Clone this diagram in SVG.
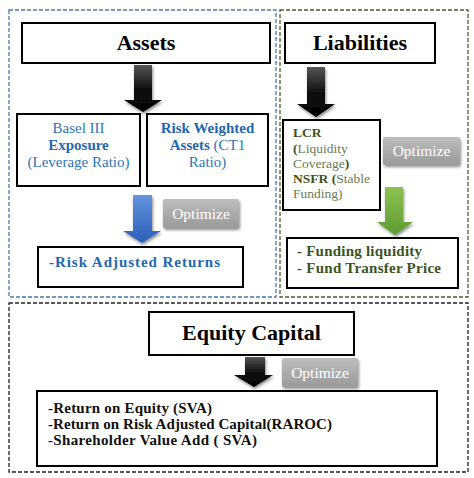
<svg xmlns="http://www.w3.org/2000/svg" width="474" height="478" viewBox="0 0 474 478">
<defs>
<linearGradient id="gBlack" x1="0" y1="0" x2="0" y2="1"><stop offset="0" stop-color="#555"/><stop offset="0.5" stop-color="#111"/><stop offset="1" stop-color="#000"/></linearGradient>
<linearGradient id="gBlue" x1="0" y1="0" x2="0" y2="1"><stop offset="0" stop-color="#6494dc"/><stop offset="1" stop-color="#2a5fba"/></linearGradient>
<linearGradient id="gGreen" x1="0" y1="0" x2="0" y2="1"><stop offset="0" stop-color="#8cc352"/><stop offset="1" stop-color="#5e9a32"/></linearGradient>
<linearGradient id="gGray" x1="0" y1="0" x2="0" y2="1"><stop offset="0" stop-color="#bdbdbd"/><stop offset="1" stop-color="#9a9a9a"/></linearGradient>
<filter id="sh" x="-30%" y="-30%" width="160%" height="160%"><feGaussianBlur in="SourceAlpha" stdDeviation="1.5"/><feOffset dx="1" dy="2" result="b"/><feComponentTransfer><feFuncA type="linear" slope="0.45"/></feComponentTransfer><feMerge><feMergeNode/><feMergeNode in="SourceGraphic"/></feMerge></filter>
</defs>
<style>
.box{fill:#fff;stroke:#000;stroke-width:2}
.t{font-family:"Liberation Serif","Times New Roman",serif}
.title{font-size:22px;font-weight:bold;fill:#000;text-anchor:middle}
.opt{font-size:15.5px;fill:#fff;text-anchor:middle}
.blue{fill:#2e75b6;font-size:15px}
.bb{font-weight:bold;fill:#1f68b0}
.gr{fill:#687c55;font-size:13.5px}
.gb{font-weight:bold;fill:#3b5323}
.eq{font-size:15px;font-weight:bold;fill:#111}
</style>
<rect x="9" y="10" width="267" height="287" fill="none" stroke="#4a78aa" stroke-width="1.3" stroke-dasharray="4,2"/>
<rect x="280" y="10" width="188" height="287" fill="none" stroke="#46602a" stroke-width="1.3" stroke-dasharray="4,2"/>
<rect x="9" y="303" width="459" height="169" fill="none" stroke="#222" stroke-width="1.3" stroke-dasharray="4,2"/>

<g id="connectors">
<path d="M134,65 H152 V100 H162 L143,112 L124,100 H134 Z" fill="url(#gBlack)" filter="url(#sh)"/>
<path d="M133,195 H152 V231 H161 L142,243 L123,231 H133 Z" fill="url(#gBlue)" filter="url(#sh)"/>
<path d="M307,67 H325 V104 H335 L316,117 L297,104 H307 Z" fill="url(#gBlack)" filter="url(#sh)"/>
<path d="M385,187 H403 V222 H413 L395,235 L377,222 H385 Z" fill="url(#gGreen)" filter="url(#sh)"/>
<path d="M245,357 H265 V375 H273 L254,387 L234,375 H245 Z" fill="url(#gBlack)" filter="url(#sh)"/>
</g>

<g id="assets"><rect class="box" x="22" y="23" width="248" height="40"/><text class="t title" x="146" y="50">Assets</text></g>
<g id="basel"><rect class="box" x="17" y="114" width="123" height="72"/>
<text class="t blue" x="78.5" y="133" text-anchor="middle">Basel III</text>
<text class="t blue bb" x="78.5" y="150" text-anchor="middle">Exposure</text>
<text class="t blue" x="78.5" y="167" text-anchor="middle">(Leverage Ratio)</text></g>
<g id="rwa"><rect class="box" x="147" y="114" width="121" height="72"/>
<text class="t blue bb" x="207.5" y="133" text-anchor="middle">Risk Weighted</text>
<text class="t blue" x="207.5" y="150" text-anchor="middle"><tspan class="bb">Assets</tspan> (CT1</text>
<text class="t blue" x="207.5" y="167" text-anchor="middle">Ratio)</text></g>
<g id="opt1"><rect x="163" y="199" width="76" height="29" rx="2" fill="url(#gGray)" filter="url(#sh)"/><text class="t opt" x="201" y="219">Optimize</text></g>
<g id="rar"><rect class="box" x="38" y="247" width="205" height="40"/><text class="t blue bb" x="49" y="267" font-size="16.5" textLength="171" lengthAdjust="spacing">-Risk Adjusted Returns</text></g>

<g id="liabilities"><rect class="box" x="285" y="23" width="150" height="40"/><text class="t title" x="360" y="50">Liabilities</text></g>
<g id="lcr"><rect class="box" x="283" y="120" width="97" height="90"/>
<text class="t gr" x="293" y="137"><tspan class="gb">LCR</tspan></text>
<text class="t gr" x="293" y="153"><tspan class="gb">(</tspan>Liquidity</text>
<text class="t gr" x="293" y="168">Coverage<tspan class="gb">)</tspan></text>
<text class="t gr" x="293" y="183"><tspan class="gb">NSFR (</tspan>Stable</text>
<text class="t gr" x="293" y="198">Funding)</text></g>
<g id="opt2"><rect x="383" y="137" width="77" height="28" rx="2" fill="url(#gGray)" filter="url(#sh)"/><text class="t opt" x="421.5" y="156">Optimize</text></g>
<g id="funding"><rect class="box" x="287" y="238" width="171" height="50"/>
<text class="t gb" x="297" y="256" font-size="15" textLength="125" lengthAdjust="spacing">- Funding liquidity</text>
<text class="t gb" x="297" y="273" font-size="15" textLength="144" lengthAdjust="spacing">- Fund Transfer Price</text></g>

<g id="equity"><rect class="box" x="149" y="312" width="205" height="43"/><text class="t title" x="251.5" y="340">Equity Capital</text></g>
<g id="opt3"><rect x="282" y="358" width="76" height="29" rx="2" fill="url(#gGray)" filter="url(#sh)"/><text class="t opt" x="320" y="378">Optimize</text></g>
<g id="returns"><rect class="box" x="37" y="391" width="400" height="75"/>
<text class="t eq" x="48" y="413" textLength="164" lengthAdjust="spacing">-Return on Equity (SVA)</text>
<text class="t eq" x="48" y="429" textLength="284" lengthAdjust="spacing">-Return on Risk Adjusted Capital(RAROC)</text>
<text class="t eq" x="48" y="445" textLength="209" lengthAdjust="spacing">-Shareholder Value Add ( SVA)</text></g>
</svg>
